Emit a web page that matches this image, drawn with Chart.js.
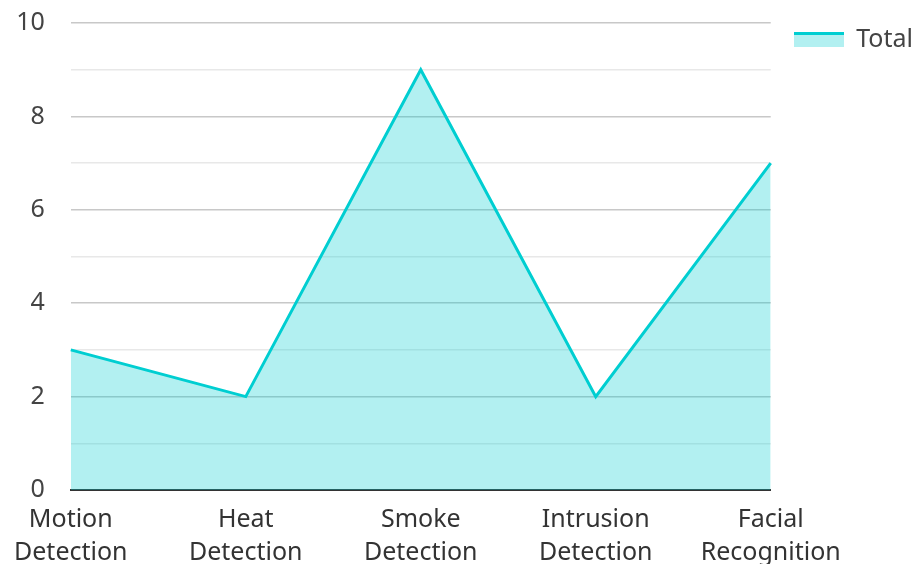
<!DOCTYPE html>
<html>
<head>
<meta charset="utf-8">
<script src="https://cdn.jsdelivr.net/npm/chart.js@4/dist/chart.umd.min.js"></script>
<style>
  html, body { margin: 0; padding: 0; background: #fff; }
  #wrap { width: 912px; height: 564px; }
</style>
</head>
<body>
<div id="wrap"><canvas id="grafico"></canvas></div>
<script>
const categorias = [['Motion', 'Detection'], ['Heat', 'Detection'], ['Smoke', 'Detection'], ['Intrusion', 'Detection'], ['Facial', 'Recognition']];
const totais = [3, 2, 9, 2, 7];
const rotuloSerie = 'Total';

const corLinha = 'rgb(0, 206, 209)';
const corArea = 'rgba(0, 206, 209, 0.3)';

// icone da legenda: faixa cheia com linha em cima
const icone = document.createElement('canvas');
icone.width = 50; icone.height = 15;
const ic = icone.getContext('2d');
ic.fillStyle = corArea;
ic.fillRect(0, 0, 50, 15);
ic.fillStyle = corLinha;
ic.fillRect(0, 0, 50, 3);

Chart.defaults.font.family = '"Noto Sans", "Open Sans", sans-serif';
Chart.defaults.font.size = 25;
Chart.defaults.color = '#444';

new Chart(document.getElementById('grafico'), {
    type: 'line',
    data: {
        labels: categorias,
        datasets: [{
            label: rotuloSerie,
            data: totais,
            borderColor: corLinha,
            backgroundColor: corArea,
            borderWidth: 3,
            fill: 'origin',
            pointRadius: 0,
            tension: 0
        }]
    },
    options: {
        responsive: true,
        maintainAspectRatio: false,
        animation: false,
        layout: { padding: { top: 0, left: 0, right: -11, bottom: -19 } },
        plugins: {
            legend: {
                position: 'right',
                align: 'start',
                // titulo vazio so para empurrar o item para baixo
                title: { display: true, text: ' ', font: { size: 1, lineHeight: 1 }, padding: { top: 3, bottom: 0 } },
                labels: {
                    usePointStyle: true,
                    pointStyle: icone,
                    pointStyleWidth: 50,
                    boxHeight: 15,
                    color: '#222',
                    padding: 23,
                    generateLabels: (chart) => [{
                        text: rotuloSerie,
                        pointStyle: icone,
                        fillStyle: corArea,
                        strokeStyle: corLinha,
                        lineWidth: 0,
                        datasetIndex: 0
                    }]
                }
            },
            tooltip: { enabled: false }
        },
        scales: {
            x: {
                offset: false,
                grid: { display: false, drawTicks: false },
                border: { display: true, color: '#333', width: 2 },
                ticks: { padding: 14, maxRotation: 0, color: '#333', font: { lineHeight: 1.3 } }
            },
            y: {
                min: 0,
                max: 10,
                afterFit: (escala) => {
                    escala.width = 67;
                    escala.paddingTop = 23;
                    escala.paddingBottom = 0;
                },
                grid: {
                    drawTicks: false,
                    lineWidth: 1.5,
                    color: (c) => (c.tick && c.tick.value % 2 === 0) ? '#c8c8c8' : '#e8e8e8'
                },
                border: { display: false },
                ticks: {
                    stepSize: 1,
                    padding: 26,
                    callback: (v) => v % 2 === 0 ? v : ''
                }
            }
        }
    }
});
</script>
</body>
</html>
